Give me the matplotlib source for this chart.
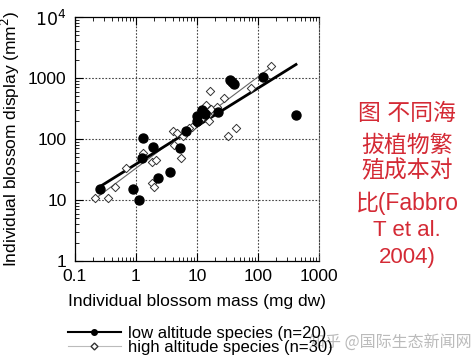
import matplotlib
matplotlib.use("Agg")
import matplotlib.pyplot as plt
import numpy as np
from matplotlib.lines import Line2D
from matplotlib.ticker import LogLocator, NullFormatter

plt.rcParams['font.family'] = ['Liberation Sans', 'Noto Sans CJK SC', 'DejaVu Sans']

# low altitude species (filled circles)
low_mass = [0.257, 0.89, 1.13, 1.29, 1.26, 1.91, 2.31, 3.66, 5.28, 6.73,
            10.0, 10.0, 11.9, 13.5, 22.5, 35, 38, 41, 119, 413]
low_disp = [15.1, 15.2, 10.1, 102, 48, 75, 22.6, 28.8, 71, 134,
            238, 200, 299, 257, 280, 916, 870, 810, 1050, 248]

# high altitude species (open diamonds)
high_mass = [0.212, 0.348, 0.455, 0.69, 1.32, 1.82, 1.82, 1.96, 4.0, 4.77,
             4.15, 5.56, 8.45, 13.9, 16.6, 15.2, 17.0, 21.1, 27.9, 32,
             44, 78, 166, 10.5, 12.5, 7.5, 6.0, 36, 16, 2.1]
high_disp = [10.9, 10.9, 16.5, 34, 60, 42, 19.2, 16.2, 137, 123,
             80, 49, 155, 361, 602, 247, 310, 338, 470, 111,
             153, 677, 1585, 190, 230, 150, 110, 880, 200, 45]

# regression lines (log10 y = a + b log10 x)
low_fit = dict(a=1.587, b=0.623, xmin=0.257, xmax=420)
high_fit = dict(a=1.52, b=0.749, xmin=0.212, xmax=166)

xticks = [0.1, 1, 10, 100, 1000]
xticklabels = ['0.1', '1', '10', '100', '1000']
yticks = [1, 10, 100, 1000, 10000]
yticklabels = ['1', '10', '100', '1000', r'$10^4$']

caption_lines = ['图 不同海', '拔植物繁', '殖成本对', '比(Fabbro', 'T et al.', '2004)']

fig = plt.figure(figsize=(4.74, 3.61), dpi=100)
ax = fig.add_axes([0.158, 0.277, 0.515, 0.676])
ax.set_xscale('log')
ax.set_yscale('log')
ax.set_xlim(0.1, 1000)
ax.set_ylim(1, 10000)

# grid
for v in [1, 10, 100]:
    ax.axvline(v, color='#444444', lw=0.8, ls=(0, (1.5, 1.5)), zorder=0)
for v in [10, 100, 1000]:
    ax.axhline(v, color='#444444', lw=0.8, ls=(0, (1.5, 1.5)), zorder=0)

ax.spines['right'].set_linestyle((0, (1.5, 1.5)))
ax.spines['right'].set_color('#444444')
for s in ['left', 'bottom', 'top']:
    ax.spines[s].set_linewidth(0.9)

ax.tick_params(which='both', direction='in', top=True, right=False,
               left=True, bottom=True, labelsize=12.5, pad=6)
ax.tick_params(which='major', length=6)
ax.tick_params(which='minor', length=3)
ax.xaxis.set_minor_locator(LogLocator(base=10, subs=np.arange(2, 10), numticks=20))
ax.yaxis.set_minor_locator(LogLocator(base=10, subs=np.arange(2, 10), numticks=20))
ax.xaxis.set_minor_formatter(NullFormatter())
ax.yaxis.set_minor_formatter(NullFormatter())
ax.set_xticks(xticks)
ax.set_xticklabels(xticklabels)
ax.set_yticks(yticks)
ax.set_yticklabels(yticklabels)

# fitted lines
def fit_line(f):
    xs = np.array([f['xmin'], f['xmax']])
    return xs, 10 ** (f['a'] + f['b'] * np.log10(xs))

hx, hy = fit_line(high_fit)
ax.plot(hx, hy, color='#666666', lw=0.8, zorder=2)
lx, ly = fit_line(low_fit)
ax.plot(lx, ly, color='black', lw=2.0, zorder=3)

ax.scatter(high_mass, high_disp, marker='D', s=18, facecolor='white',
           edgecolor='#333333', linewidths=0.7, zorder=4)
ax.scatter(low_mass, low_disp, marker='o', s=42, color='black', zorder=5)

ax.set_xlabel('Individual blossom mass (mg dw)', fontsize=12.5, labelpad=7)
ax.set_ylabel(r'Individual blossom display (mm$^2$)', fontsize=12.5, labelpad=4)

# legend
handles = [Line2D([0], [0], color='black', lw=1.5, marker='o', markersize=4),
           Line2D([0], [0], color='#bbbbbb', lw=0.8, marker='D', markersize=3.5,
                  markerfacecolor='white', markeredgecolor='#333333')]
fig.legend(handles, ['low altitude species (n=20)', 'high altitude species (n=30)'],
           loc='upper left', bbox_to_anchor=(0.118, 0.13), frameon=False,
           fontsize=12, handlelength=3.2, handletextpad=0.4, labelspacing=-0.03,
           borderpad=0.2)

# red annotation
cap_y = [113, 145, 171, 203, 230, 257]
for txt, yy in zip(caption_lines, cap_y):
    fig.text(407 / 474, 1 - yy / 361, txt, color='#d42a35',
             fontsize=16.5 if txt[0] > '\u2e80' else 16,
             ha='center', va='center',
             family=['Liberation Sans', 'Noto Sans CJK SC'])

# watermark
fig.text(390 / 474, 1 - 342 / 361, '知乎 @国际生态新闻网', color='#bbbbbb', fontsize=11.5,
         ha='center', va='center', family=['Noto Sans CJK SC', 'DejaVu Sans'])

fig.savefig('out.png', dpi=100)
